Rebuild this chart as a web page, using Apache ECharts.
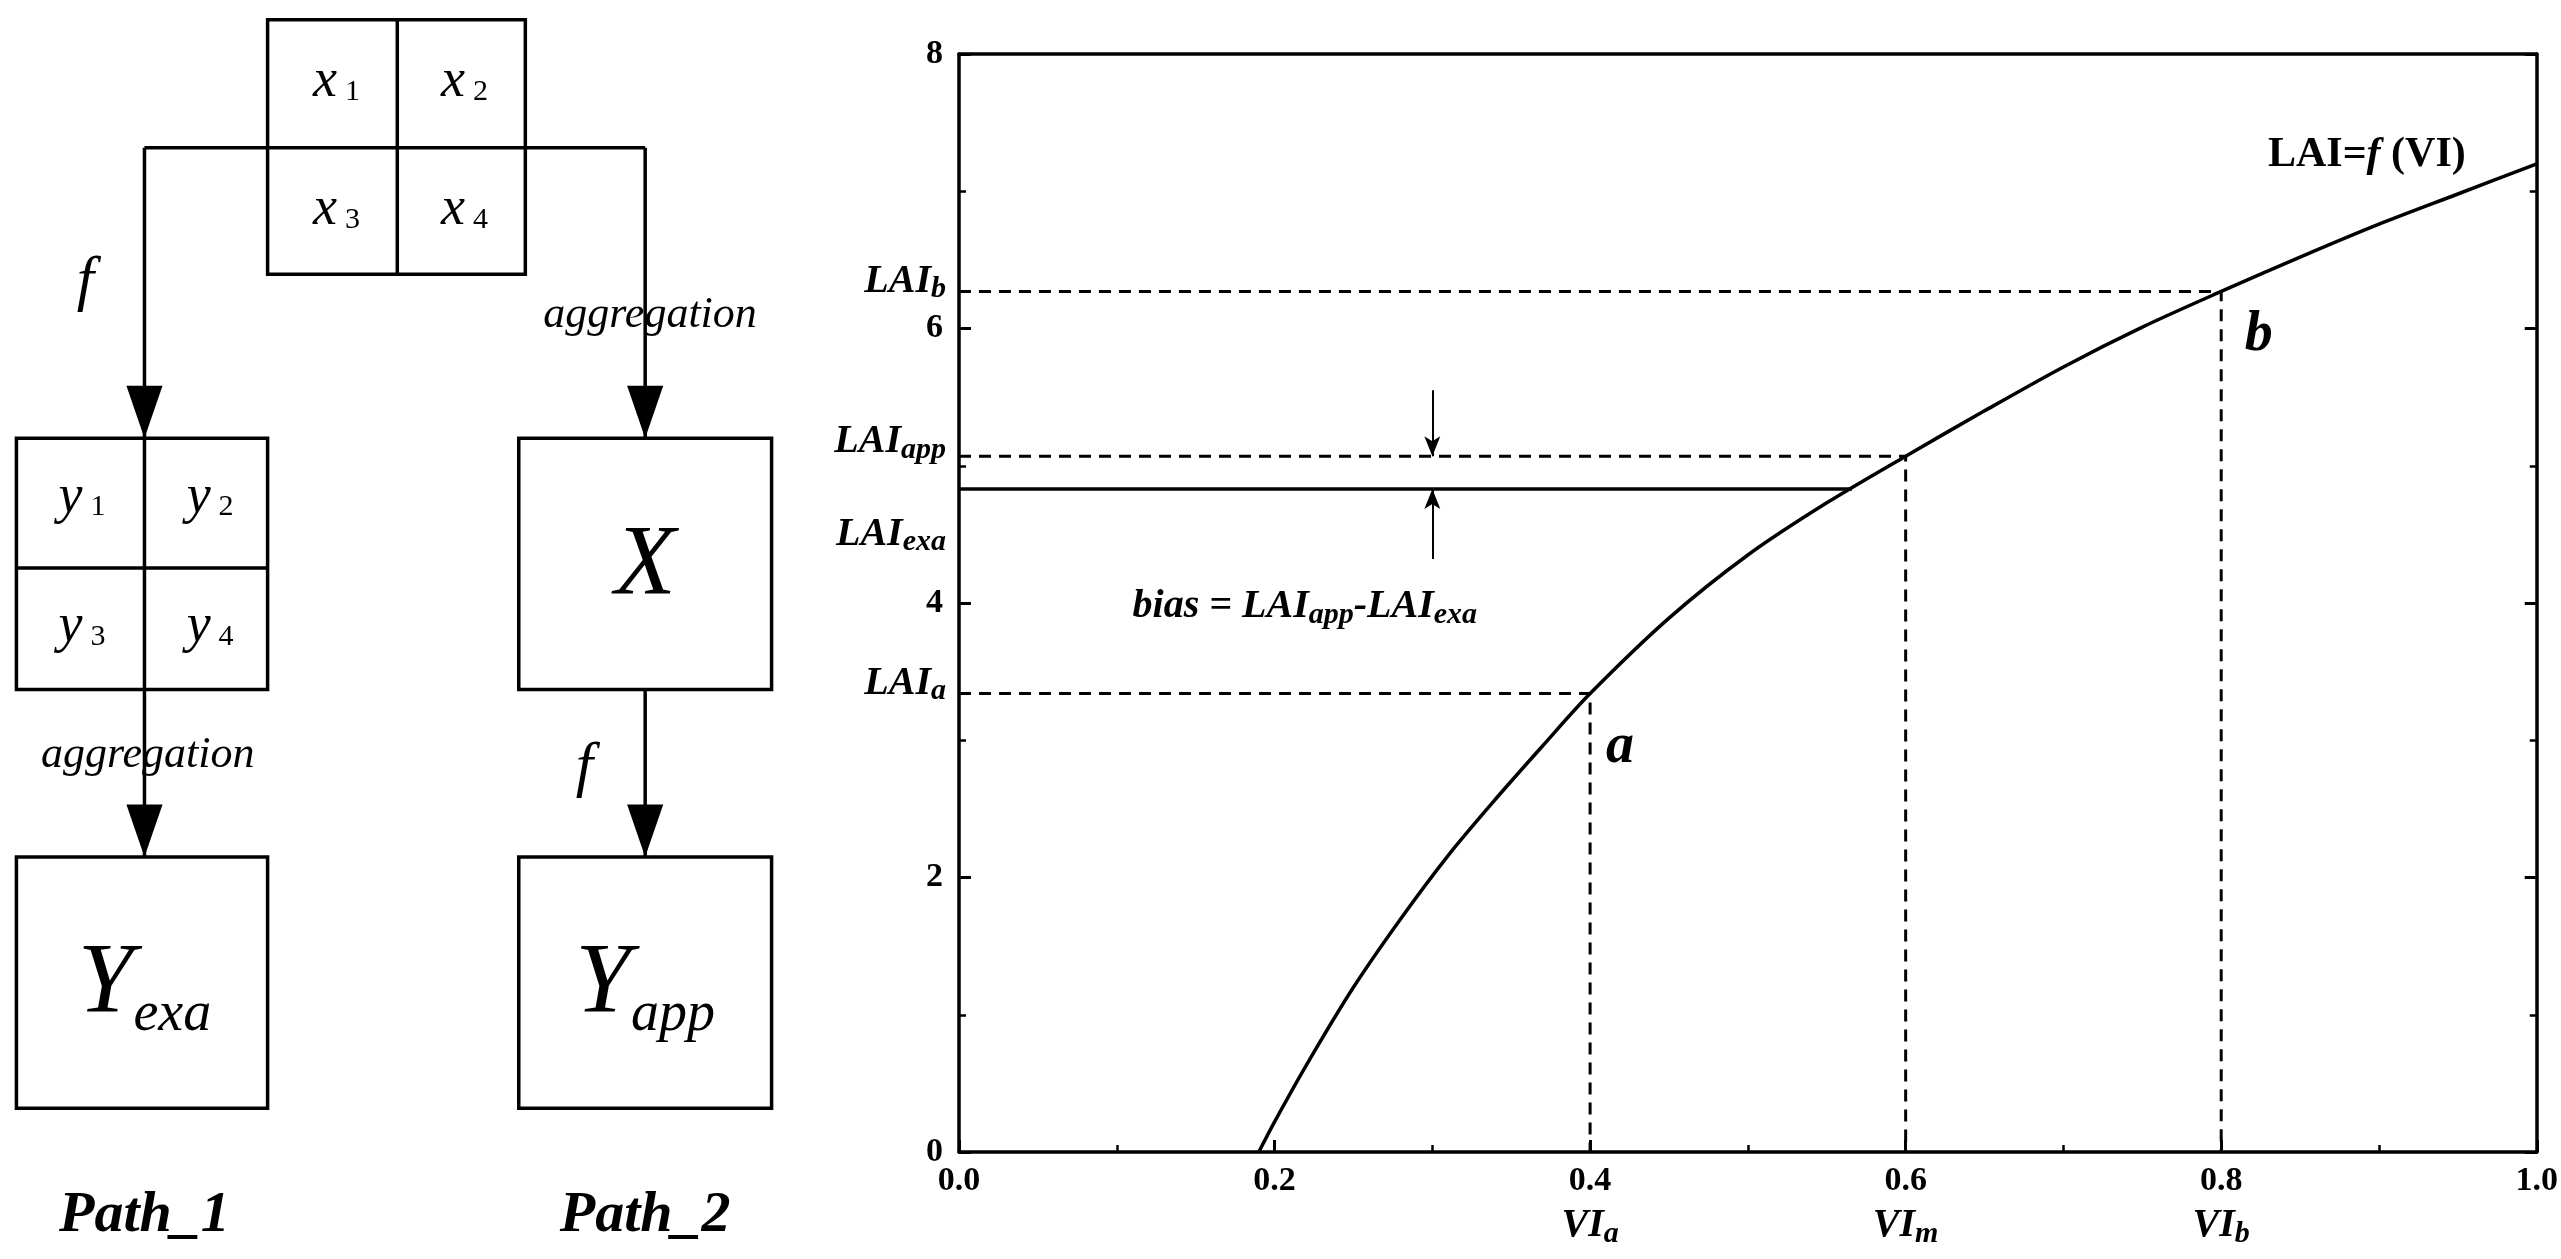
<!DOCTYPE html>
<html><head><meta charset="utf-8">
<script src="https://cdn.jsdelivr.net/npm/echarts@6/dist/echarts.min.js"></script>
<style>html,body{margin:0;padding:0;background:#fff}#c{width:2561px;height:1259px}</style>
</head><body><div id="c"></div>
<script>
const curveVI  = [0.19,0.20,0.22,0.25,0.28,0.31,0.34,0.37,0.40,0.45,0.50,0.55,0.60,0.65,0.70,0.75,0.80,0.85,0.90,0.95,1.00];
const curveLAI = [0,0.22,0.63,1.2,1.7,2.16,2.57,2.96,3.34,3.89,4.35,4.73,5.07,5.4,5.72,6.01,6.27,6.52,6.76,6.98,7.2];
const LAI_a = 3.34, LAI_exa = 4.83, LAI_app = 5.07, LAI_b = 6.27;
const VI_a = 0.4, VI_exaEnd = 0.566, VI_m = 0.6, VI_b = 0.8;
const xTicks = [0.0,0.2,0.4,0.6,0.8,1.0];
const yTicks = [0,2,4,6,8];

const S = 2561/1560;
const F = 'Liberation Serif';
const chart = echarts.init(document.getElementById('c'));
const dash = {color:'#000',width:3,type:[12,8]};
const tickCommon = {inside:true,length:12,lineStyle:{width:3,color:'#000'}};
const minorCommon = {show:true,splitNumber:2,length:7,lineStyle:{color:'#000',width:2.5}};

const option = {
  animation:false,
  grid:{left:959,right:20,top:54,bottom:107},
  xAxis:[{type:'value',min:0,max:1,interval:0.2,
    axisLine:{lineStyle:{color:'#000',width:3.5}},
    axisTick:tickCommon, minorTick:minorCommon, splitLine:{show:false},
    axisLabel:{fontFamily:F,fontWeight:'bold',fontSize:34,color:'#000',margin:12,formatter:v=>v.toFixed(1)}},
   {type:'value',position:'top',min:0,max:1,axisLine:{onZero:false,lineStyle:{color:'#000',width:3.5}},axisTick:{show:false},axisLabel:{show:false},splitLine:{show:false}}],
  yAxis:[{type:'value',min:0,max:8,interval:2,
    axisLine:{show:true,lineStyle:{color:'#000',width:3.5}},
    axisTick:tickCommon, minorTick:minorCommon, splitLine:{show:false},
    axisLabel:{fontFamily:F,fontWeight:'bold',fontSize:34,color:'#000',margin:16}},
   {type:'value',position:'right',min:0,max:8,interval:2,
    axisLine:{show:true,onZero:false,lineStyle:{color:'#000',width:3.5}},
    axisTick:tickCommon, minorTick:minorCommon, splitLine:{show:false},axisLabel:{show:false}}],
  series:[
    {type:'line',smooth:0.3,symbol:'none',data:curveVI.map((v,i)=>[v,curveLAI[i]]),lineStyle:{color:'#000',width:3.5}},
    {type:'line',symbol:'none',data:[[0,LAI_b],[VI_b,LAI_b],[VI_b,0]],lineStyle:dash},
    {type:'line',symbol:'none',data:[[0,LAI_app],[VI_m,LAI_app],[VI_m,0]],lineStyle:dash},
    {type:'line',symbol:'none',data:[[0,LAI_a],[VI_a,LAI_a],[VI_a,0]],lineStyle:dash},
    {type:'line',symbol:'none',data:[[0,LAI_exa],[VI_exaEnd,LAI_exa]],lineStyle:{color:'#000',width:3.5},
     markLine:{silent:true,symbol:['none','arrow'],symbolSize:[12,20],label:{show:false},lineStyle:{color:'#000',width:2,type:'solid'},
       data:[[{coord:[0.3,5.55]},{coord:[0.3,LAI_app]}],[{coord:[0.3,4.32]},{coord:[0.3,LAI_exa]}]]}}
  ]
};
chart.setOption(option);

const g = [];
const P = (x,y)=>chart.convertToPixel({gridIndex:0},[x,y]);
const bi = {fontFamily:F,fontStyle:'italic',fontWeight:'bold',fill:'#000'};
function txt(x,y,text,rich,extra){g.push({type:'text',x,y,style:Object.assign({text,fontFamily:F,fill:'#000',rich},extra)});}
const laiRich = {m:{fontFamily:F,fontStyle:'italic',fontWeight:'bold',fontSize:40},s:{fontFamily:F,fontStyle:'italic',fontWeight:'bold',fontSize:30,padding:[16,0,0,0]}};
const lx = 946;
txt(lx,P(0,LAI_b)[1]-10,'{m|LAI}{s|b}',laiRich,{align:'right',verticalAlign:'middle'});
txt(lx,P(0,LAI_app)[1]-14,'{m|LAI}{s|app}',laiRich,{align:'right',verticalAlign:'middle'});
txt(lx,P(0,4.5)[1],'{m|LAI}{s|exa}',laiRich,{align:'right',verticalAlign:'middle'});
txt(lx,P(0,LAI_a)[1]-10,'{m|LAI}{s|a}',laiRich,{align:'right',verticalAlign:'middle'});
const bp = P(0.11,3.97);
txt(bp[0],bp[1],'{m|bias = LAI}{s|app}{m|-LAI}{s|exa}',laiRich,{align:'left',verticalAlign:'middle'});
const ap = P(0.41,2.95); txt(ap[0],ap[1],'a',null,Object.assign({},bi,{fontSize:56,verticalAlign:'middle'}));
const bpp = P(0.815,5.95); txt(bpp[0],bpp[1],'b',null,Object.assign({},bi,{fontSize:56,verticalAlign:'middle'}));
const fp = P(0.955,7.26);
txt(fp[0],fp[1],'{n|LAI=}{i|f}{n| (VI)}',{n:{fontFamily:F,fontWeight:'bold',fontSize:42},i:{fontFamily:F,fontStyle:'italic',fontWeight:'bold',fontSize:42}},{align:'right',verticalAlign:'middle'});
[[VI_a,'a'],[VI_m,'m'],[VI_b,'b']].forEach(([v,s])=>{const p=P(v,0);
  txt(p[0],1226,'{m|VI}{s|'+s+'}',laiRich,{align:'center',verticalAlign:'middle'});});

// left diagram (display units * S)
const L = {stroke:'#000',lineWidth:3.5,fill:null};
function rect(x,y,w,h){g.push({type:'rect',shape:{x:x*S,y:y*S,width:w*S,height:h*S},style:Object.assign({},L,{fill:'#fff'})});}
function line(x1,y1,x2,y2){g.push({type:'line',shape:{x1:x1*S,y1:y1*S,x2:x2*S,y2:y2*S},style:L});}
function arrowHead(x,y){g.push({type:'polygon',shape:{points:[[(x-11)*S,(y-32)*S],[(x+11)*S,(y-32)*S],[x*S,y*S]]},style:{fill:'#000'}});}
function t(x,y,text,rich,size,extra){g.push({type:'text',x:x*S,y:y*S,z:10,style:Object.assign({text,fontFamily:F,fontSize:size,fill:'#000',align:'center',verticalAlign:'middle',rich},extra||{})});}
line(88,90,163,90); line(320,90,393,90);
line(88,90,88,267); arrowHead(88,267);
line(393,90,393,267); arrowHead(393,267);
line(393,420,393,522); arrowHead(393,522);
rect(163,12,157,155); line(242,12,242,167); line(163,90,320,90);
rect(10,267,153,153);
rect(316,267,154,153);
rect(10,522,153,153);
rect(316,522,154,153);
line(88,267,88,420); line(10,346,163,346);
line(88,420,88,522); arrowHead(88,522);
const sub = {v:{fontFamily:F,fontStyle:'italic',fontSize:54},s:{fontFamily:F,fontSize:30,padding:[20,0,0,8]}};
t(205,50,'{v|x}{s|1}',sub); t(283,50,'{v|x}{s|2}',sub);
t(205,128,'{v|x}{s|3}',sub); t(283,128,'{v|x}{s|4}',sub);
t(50,303,'{v|y}{s|1}',sub); t(128,303,'{v|y}{s|2}',sub);
t(50,382,'{v|y}{s|3}',sub); t(128,382,'{v|y}{s|4}',sub);
t(393,345,'X',null,100,{fontStyle:'italic'});
const big = {v:{fontFamily:F,fontStyle:'italic',fontSize:100},s:{fontFamily:F,fontStyle:'italic',fontSize:56,padding:[60,0,0,0]}};
t(88,600,'{v|Y}{s|exa}',big); t(393,600,'{v|Y}{s|app}',big);
t(52,172,'f',null,62,{fontStyle:'italic'});
t(356,468,'f',null,62,{fontStyle:'italic'});
t(396,192,'aggregation',null,44,{fontStyle:'italic'});
t(90,460,'aggregation',null,44,{fontStyle:'italic'});
t(88,741,'Path_1',null,58,{fontStyle:'italic',fontWeight:'bold'});
t(393,741,'Path_2',null,58,{fontStyle:'italic',fontWeight:'bold'});
chart.setOption({graphic:g});
</script></body></html>
